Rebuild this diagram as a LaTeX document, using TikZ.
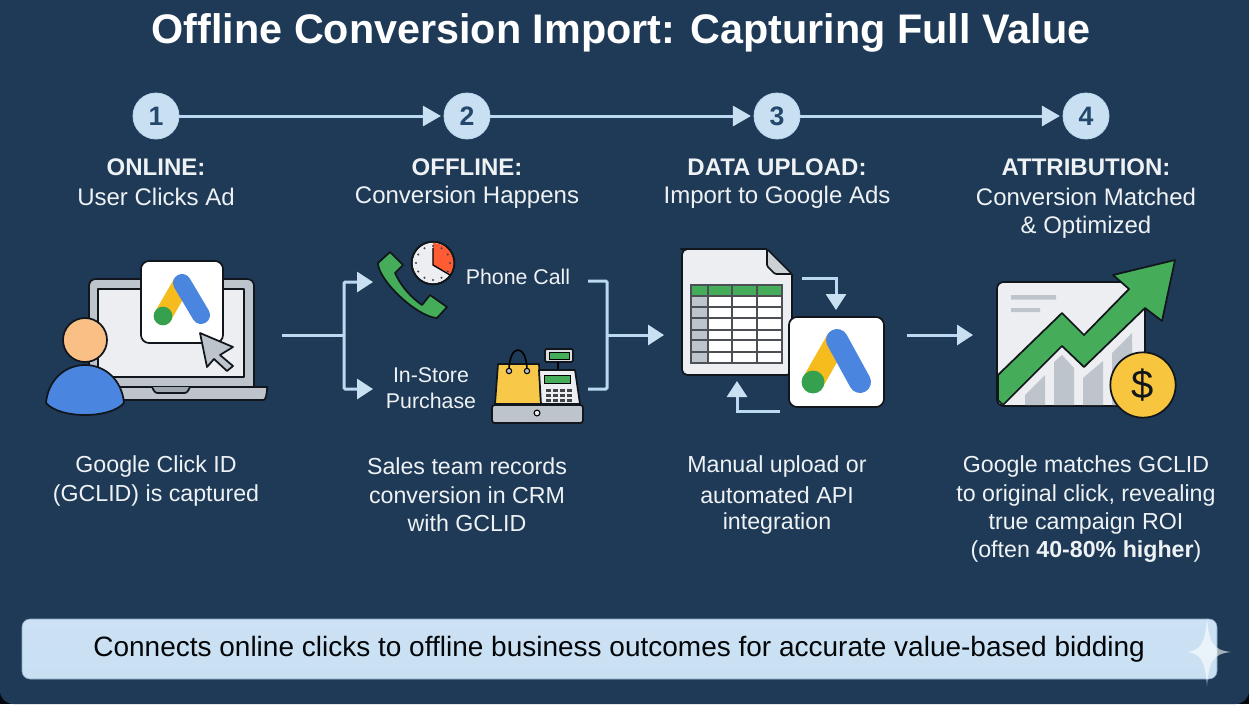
\documentclass[tikz,border=0pt]{standalone}
\usepackage{fontspec}
\setmainfont{Liberation Sans}
\usetikzlibrary{arrows.meta,calc,shapes.geometric}
\definecolor{bgc}{HTML}{1F3A56}
\definecolor{linec}{HTML}{BBD9F0}
\definecolor{headc}{HTML}{C9E0F3}
\definecolor{txt}{HTML}{EEF2F5}
\definecolor{numc}{HTML}{24486B}
\definecolor{adblue}{HTML}{4A86E0}
\definecolor{adyel}{HTML}{F6BB1C}
\definecolor{adgreen}{HTML}{35A04E}
\definecolor{stroke}{HTML}{10161C}
\definecolor{grayl}{HTML}{BEC4CB}
\definecolor{grayd}{HTML}{9EA6AE}
\definecolor{pale}{HTML}{ECEEF1}
\definecolor{green2}{HTML}{45AC59}
\tikzset{
  flow/.style={draw=linec,line width=2.25pt,line join=miter},
  flowa/.style={flow,-{Triangle[length=13.5pt,width=15pt,color=headc]}},
  flowb/.style={flow,-{Triangle[length=12pt,width=15pt,color=headc]}},
  numb/.style={circle,fill=headc,draw=linec,line width=.6pt,minimum size=34.5pt,inner sep=0pt,text=numc,font=\fontsize{20}{20}\selectfont\bfseries},
  head/.style={text=txt,inner sep=0pt,font=\fontsize{18}{20}\selectfont\bfseries},
  sub/.style={text=txt,inner sep=0pt,font=\fontsize{18}{20}\selectfont},
  desc/.style={text=txt,inner sep=0pt,font=\fontsize{17.4}{20}\selectfont},
  lbl/.style={text=txt,inner sep=0pt,font=\fontsize{16}{18}\selectfont},
  ol/.style={draw=stroke,line width=1.3pt,line join=round},
  card/.style={ol,fill=white,rounded corners=6pt},
}
\newcommand{\adlogo}[7]{% gx gy (green end), tx ty (top), bx by (blue end), width in pt
  \draw[adyel,line width=#7pt,line cap=butt] (#1,#2) -- (#3,#4);
  \fill[adgreen] (#1,#2) circle[radius=#7*0.52pt];
  \draw[adblue,line width=#7pt,line cap=round] (#3,#4) -- (#5,#6);
}
\begin{document}
\begin{tikzpicture}[x=0.75pt,y=-0.75pt]
\useasboundingbox (0,0) rectangle (1249,704);
\fill[black!85!bgc] (0,0) rectangle (1249,704);
\fill[bgc,rounded corners=10pt] (0,-20) rectangle (1249,704);

\node[text=white,inner sep=0pt,font=\fontsize{31}{36}\selectfont\bfseries] (title) at (621,33) {Offline Conversion Import: Capturing Full Value};

% step circles
\node[numb] (n1) at (156,116) {1};
\node[numb] (n2) at (467,116) {2};
\node[numb] (n3) at (777,116) {3};
\node[numb] (n4) at (1086,116) {4};
\draw[flowa,shorten >=2pt] (n1) -- (n2);
\draw[flowa,shorten >=2pt] (n2) -- (n3);
\draw[flowa,shorten >=2pt] (n3) -- (n4);

% headings
\node[head] (h1) at (156,167) {ONLINE:};
\node[sub] (s1) at (156,197) {User Clicks Ad};
\node[head] (h2) at (467,167) {OFFLINE:};
\node[sub] (s2) at (467,197) {Conversion Happens};
\node[head] (h3) at (777,167) {DATA UPLOAD:};
\node[sub] (s3) at (777,197) {Import to Google Ads};
\node[head] (h4) at (1086,167) {ATTRIBUTION:};
\node[sub] (s4) at (1086,197) {Conversion Matched};
\node[sub] (s4b) at (1086,227) {\& Optimized};

% descriptions
\node[desc] (d1a) at (156,466) {Google Click ID};
\node[desc] (d1b) at (156,495) {(GCLID) is captured};
\node[desc] (d2a) at (467,466) {Sales team records};
\node[desc] (d2b) at (467,495) {conversion in CRM};
\node[desc] (d2c) at (467,523) {with GCLID};
\node[desc] (d3a) at (777,466) {Manual upload or};
\node[desc] (d3b) at (777,495) {automated API};
\node[desc] (d3c) at (777,523) {integration};
\node[desc] (d4a) at (1086,466) {Google matches GCLID};
\node[desc] (d4b) at (1086,495) {to original click, revealing};
\node[desc] (d4c) at (1086,523) {true campaign ROI};
\node[desc] (d4d) at (1086,552) {(often \textbf{40-80\% higher})};

% --- laptop
\draw[ol,fill=grayl,rounded corners=5pt] (89,387) -- (89,279) -- (254,279) -- (254,387);
\draw[ol,fill=pale] (98,289) rectangle (244,377);
\draw[ol,fill=grayl,rounded corners=4pt] (110,387) -- (262,387) .. controls (267,387) and (267,400) .. (258,400) -- (110,400) -- cycle;
\draw[ol,fill=grayd] (152,387) .. controls (155,393) and (155,393) .. (160,393) -- (182,393) .. controls (187,393) and (187,393) .. (190,387);
\draw[card] (141,261) rectangle (223,343);
\adlogo{163}{316}{182}{283}{201}{315}{13.5}
\draw[ol,fill=grayl] (200,333) -- (233,347) -- (220,355) -- (233,366) -- (227,371) -- (214,359) -- (207,367) -- cycle;
\draw[ol,fill=adblue] (46,403) .. controls (48,380) and (65,365) .. (85,365) .. controls (105,365) and (122,380) .. (124,403) .. controls (110,419) and (60,419) .. (46,403) -- cycle;
\draw[ol,fill=orange!45!white!90!brown] (85,340) circle[radius=16.5pt];

% --- split connector
\coordinate (sp0) at (282,335);
\coordinate (spm) at (344,335);
\coordinate (spt) at (344,282);
\coordinate (spb) at (344,389);
\coordinate (spte) at (373,282);
\coordinate (spbe) at (373,389);
\draw[flow] (sp0) -- (spm);
\draw[flowb,rounded corners=1pt] (spm) -- (spt) -- (spte);
\draw[flowb,rounded corners=1pt] (spm) -- (spb) -- (spbe);

% --- phone
\draw[ol,fill=green2] (390,252) -- (403,265) -- (395,273) .. controls (402,288) and (412,298) .. (422,305) -- (430,295) -- (447,307) -- (437,318) .. controls (417,317) and (378,280) .. (378,263) -- cycle;
\draw[ol,fill=pale] (433,263) circle[radius=16pt];
\fill[red!60!orange!80!white] (433,265) -- (433,243) arc[start angle=-90,end angle=30,radius=21] -- cycle;
\draw[ol] (433,263) circle[radius=16pt];
\draw[stroke,line width=1pt] (433,248) -- (433,265) -- (450,275);
\foreach \a in {0,30,...,330}{\fill[stroke!80] ($(433,263)+(\a:17)$) circle[radius=.8pt];}
\node[lbl] (l1) at (518,277) {Phone Call};
\node[lbl] (l2a) at (431,375) {In-Store};
\node[lbl] (l2b) at (431,401) {Purchase};

% --- bag + register
\draw[ol,fill=adyel!80!white] (498,364) -- (539,364) -- (541,404) -- (495,404) -- cycle;
\draw[stroke,line width=1.2pt] (509,371) .. controls (509,343) and (527,343) .. (527,371);
\fill[grayl] (509,371) circle[radius=1.8pt] (527,371) circle[radius=1.8pt];
\draw[stroke,line width=.8pt] (509,371) circle[radius=2pt] (527,371) circle[radius=2pt];
\draw[ol,fill=pale!85!gray,rounded corners=1pt] (545,349) rectangle (573,362);
\draw[stroke,fill=green2,line width=.6pt] (549,352) rectangle (569,359);
\draw[stroke,line width=1.5pt] (558,362) -- (558,370);
\draw[ol,fill=pale] (539,370) -- (575,370) -- (580,404) -- (541,404) -- cycle;
\draw[stroke,fill=green2,line width=.6pt] (544,375) rectangle (570,383);
\foreach \yy in {389,394,399}{\foreach \xx in {546,553,560,567}{\fill[stroke!80] (\xx,\yy) rectangle +(5,3);}}
\draw[ol,fill=grayl,rounded corners=2pt] (492,405) rectangle (583,423);
\draw[stroke,fill=pale,line width=.8pt] (537,413) circle[radius=2.2pt];

% --- merge connector
\coordinate (mt) at (588,281);
\coordinate (mb) at (588,389);
\coordinate (mtc) at (607,281);
\coordinate (mbc) at (607,389);
\coordinate (mm) at (607,335);
\coordinate (me) at (664,335);
\draw[flow,rounded corners=1pt] (mt) -- (mtc) -- (mbc) -- (mb);
\draw[flowb] (mm) -- (me);

% --- spreadsheet
\draw[ol,fill=pale,rounded corners=4pt] (767,249) -- (686,249) -- (682,249) -- (682,375) -- (792,375) -- (792,274);
\fill[pale] (767,250) -- (791,275) -- (780,275) -- (767,262) -- cycle;
\draw[ol,fill=grayl!80!white,rounded corners=1pt] (767,249) -- (792,274) -- (775,274) -- (767,266) -- cycle;
\fill[white] (691,285) rectangle (782,363);
\fill[green2] (691,285) rectangle (782,296);
\fill[grayl] (691,296) rectangle (708,363);
\draw[stroke!75,line width=.9pt] (691,285) rectangle (782,363);
\foreach \xx in {708,732,757}{\draw[stroke!75,line width=.9pt] (\xx,285) -- (\xx,363);}
\foreach \yy in {296,307,318,330,340,352}{\draw[stroke!75,line width=.9pt] (691,\yy) -- (782,\yy);}
\draw[card] (789,317) rectangle (884,407);
\adlogo{813}{382}{837}{340}{860}{382}{16.5}
\coordinate (ua) at (802,278);
\coordinate (ub) at (836,278);
\coordinate (uc) at (836,310);
\draw[flowb] (ua) -- (ub) -- (uc);
\coordinate (va) at (780,411);
\coordinate (vb) at (737,411);
\coordinate (vc) at (737,381);
\draw[flowb] (va) -- (vb) -- (vc);
\coordinate (wa) at (907,335);
\coordinate (wb) at (973,335);
\draw[flowb] (wa) -- (wb);

% --- chart
\draw[ol,fill=pale,rounded corners=5pt] (997,406) -- (997,282) -- (1145,282) -- (1145,406) -- cycle;
\fill[grayl] (1011,295) rectangle (1056,299.5) (1011,308) rectangle (1040,312);
\fill[grayl] (1025,395) -- (1025,395) -- (1045,375) -- (1045,405) -- (1025,405) -- cycle;
\fill[grayl] (1054,362) -- (1062,355) -- (1074,368) -- (1074,405) -- (1054,405) -- cycle;
\fill[grayl] (1083,378) -- (1103,361) -- (1103,405) -- (1083,405) -- cycle;
\fill[grayl] (1112,353) -- (1132,333) -- (1132,405) -- (1112,405) -- cycle;
\draw[ol,fill=green2] (1175,260) -- (1113,275) -- (1129,289) -- (1084,335) -- (1062,313) -- (998,375) -- (998,400) -- (1003,405) -- (1062,346) -- (1084,367) -- (1145,308) -- (1162,321) -- cycle;
\draw[ol,fill=adyel!85!white] (1143,385) circle[radius=24.5pt];
\node[text=stroke,inner sep=0pt,font=\fontsize{30}{30}\selectfont] (dollar) at (1143,385) {\$};

% --- banner
\node[rounded corners=6pt,minimum width=896.25pt,minimum height=45pt,inner sep=0pt,
  top color=headc!95!white,bottom color=headc,draw=linec!70!bgc,line width=.4pt,
  text=black!90!bgc,font=\fontsize{21}{24}\selectfont] (banner) at (619.5,649)
  {\hspace*{-.5pt}Connects online clicks to offline business outcomes for accurate value-based bidding};
\fill[white,opacity=.6] (1207,618) .. controls (1209,642) and (1212,650) .. (1231,652) .. controls (1212,654) and (1209,662) .. (1207,686) .. controls (1205,662) and (1202,654) .. (1187,652) .. controls (1202,650) and (1205,642) .. (1207,618) -- cycle;
\end{tikzpicture}
\end{document}
